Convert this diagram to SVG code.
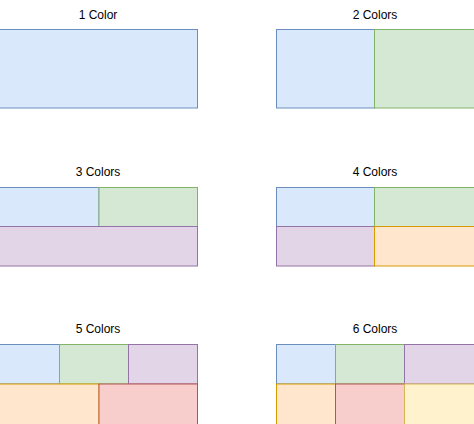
<svg xmlns="http://www.w3.org/2000/svg" width="474" height="424" viewBox="0 0 474 424">
<style>
text{font-family:"Liberation Sans",Arial,sans-serif;font-size:12px;fill:#000;text-anchor:middle}
rect{stroke-width:1}
.b{fill:#dae8fc;stroke:#6c8ebf}
.g{fill:#d5e8d4;stroke:#82b366}
.p{fill:#e1d5e7;stroke:#9673a6}
.o{fill:#ffe6cc;stroke:#d79b00}
.r{fill:#f8cecc;stroke:#b85450}
.y{fill:#fff2cc;stroke:#d6b656}
</style>
<rect width="474" height="424" fill="#fff" stroke="none"/>
<g id="one">
<text x="98" y="19">1 Color</text>
<rect class="b" x="-2.5" y="29.5" width="200" height="78.5"/>
</g>
<g id="two">
<text x="375" y="19">2 Colors</text>
<rect class="b" x="276.5" y="29.5" width="98" height="78.5"/>
<rect class="g" x="374.5" y="29.5" width="102" height="78.5"/>
</g>
<g id="three">
<text x="98" y="176">3 Colors</text>
<rect class="b" x="-2.5" y="187.5" width="101.5" height="39"/>
<rect class="g" x="99" y="187.5" width="98.5" height="39"/>
<rect class="p" x="-2.5" y="226.5" width="200" height="39.5"/>
</g>
<g id="four">
<text x="375" y="176">4 Colors</text>
<rect class="b" x="276.5" y="187.5" width="98" height="39"/>
<rect class="g" x="374.5" y="187.5" width="102" height="39"/>
<rect class="p" x="276.5" y="226.5" width="98" height="39.5"/>
<rect class="o" x="374.5" y="226.5" width="102" height="39.5"/>
</g>
<g id="five">
<text x="98" y="333">5 Colors</text>
<rect class="b" x="-2.5" y="344.5" width="62" height="39.5"/>
<rect class="g" x="59.5" y="344.5" width="69" height="39.5"/>
<rect class="p" x="128.5" y="344.5" width="69" height="39.5"/>
<rect class="o" x="-2.5" y="384" width="101.5" height="45"/>
<rect class="r" x="99" y="384" width="98.5" height="45"/>
</g>
<g id="six">
<text x="375" y="333">6 Colors</text>
<rect class="b" x="276.5" y="344.5" width="59" height="39.5"/>
<rect class="g" x="335.5" y="344.5" width="69" height="39.5"/>
<rect class="p" x="404.5" y="344.5" width="72" height="39.5"/>
<rect class="o" x="276.5" y="384" width="59" height="45"/>
<rect class="r" x="335.5" y="384" width="69" height="45"/>
<rect class="y" x="404.5" y="384" width="72" height="45"/>
</g>
<g id="connectors"/>
</svg>
